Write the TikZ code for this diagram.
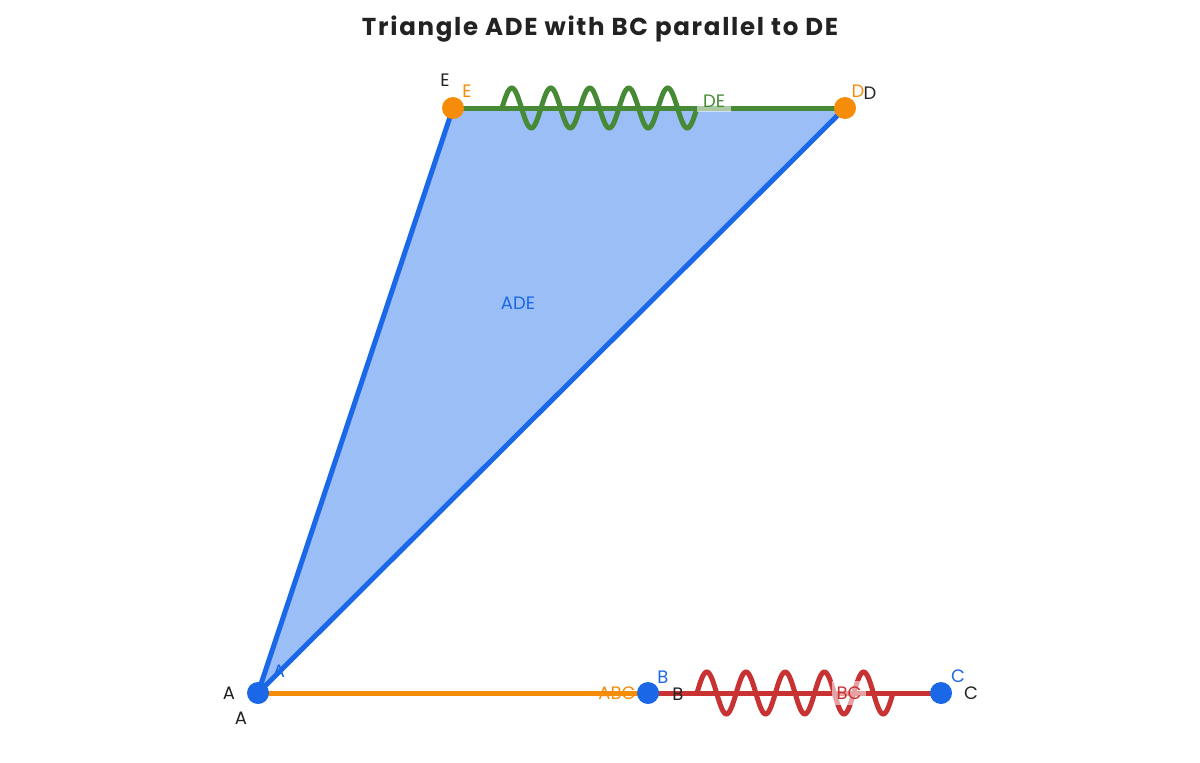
\documentclass[tikz,border=0pt]{standalone}
\usepackage{fontspec}
\setmainfont{Poppins}
\newfontfamily\titlefont[LetterSpace=7]{Poppins}
\usepackage{xcolor}
\usetikzlibrary{calc}

\definecolor{edgeblue}{HTML}{1A68E8}
\definecolor{fillblue}{HTML}{9BBEF6}
\definecolor{segorange}{HTML}{F58C0A}
\definecolor{seggreen}{HTML}{468A36}
\definecolor{segred}{HTML}{C83232}
\definecolor{txtblack}{HTML}{222222}

\tikzset{
  vertex/.style={circle,fill=#1,inner sep=0pt,minimum size=22pt},
  lbl/.style={font=\fontsize{18}{18}\selectfont,inner sep=1pt},
  tagbox/.style={lbl,fill=white,fill opacity=0.55,text opacity=1,inner sep=2pt}
}

\begin{document}
\begin{tikzpicture}[x=1pt,y=-1pt]
    \useasboundingbox (0,0) rectangle (1200,763);

    % Vertices of the triangle and of the segment BC
    \coordinate (A) at (258,693);
    \coordinate (B) at (648,693);
    \coordinate (C) at (941,693);
    \coordinate (E) at (453,108);
    \coordinate (D) at (845,108);

    % Title
    \node[font=\titlefont\bfseries\fontsize{24.5}{25}\selectfont,text=txtblack] (title) at (600,29) {Triangle ADE with BC parallel to DE};

    % Triangle ADE
    \fill[fillblue] (A) -- (E) -- (D) -- cycle;
    \node[lbl,text=edgeblue] (labAin) at (279,671) {A}; % under the edge
    \draw[edgeblue,line width=5pt] (E) -- (A) -- (D);
    \draw[seggreen,line width=5pt] (E) -- (D);
    \draw[seggreen,line width=5pt] plot[domain=0:195,samples=220] ({502+\x},{108-20*sin(9.2308*\x)});

    % Segment AB and BC
    \draw[segorange,line width=5pt] (A) -- (B);
    \draw[segred,line width=5pt] (B) -- (C);
    \draw[segred,line width=5pt] plot[domain=0:196,samples=220] ({697+\x},{693-21*sin(9.1837*\x)});

    % Labels of the segments
    \node[tagbox,text=seggreen,minimum width=34pt,minimum height=22pt] (labDE) at (714,101) {DE};
    \node[tagbox,text=segred,minimum width=34pt,minimum height=24pt] (labBC) at (849,693) {BC};
    \node[lbl,text=segorange] (labABC) at (617,693) {ABC};
    \node[lbl,text=edgeblue] (labADE) at (518,303) {ADE};

    % Points
    \node[vertex=edgeblue] (pA) at (A) {};
    \node[vertex=edgeblue] (pB) at (B) {};
    \node[vertex=edgeblue] (pC) at (C) {};
    \node[vertex=segorange] (pE) at (E) {};
    \node[vertex=segorange] (pD) at (D) {};

    % Names of the points
    \node[lbl,text=txtblack] at (229,693) {A};
    \node[lbl,text=txtblack] at (241,718) {A};
    \node[lbl,text=edgeblue] at (663,677) {B};
    \node[lbl,text=txtblack] at (678,694) {B};
    \node[lbl,text=edgeblue] at (958,676) {C};
    \node[lbl,text=txtblack] at (971,693) {C};
    \node[lbl,text=txtblack] at (445,80) {E};
    \node[lbl,text=segorange] at (467,91) {E};
    \node[lbl,text=segorange] at (858,91) {D};
    \node[lbl,text=txtblack] at (870,93) {D};
\end{tikzpicture}
\end{document}
